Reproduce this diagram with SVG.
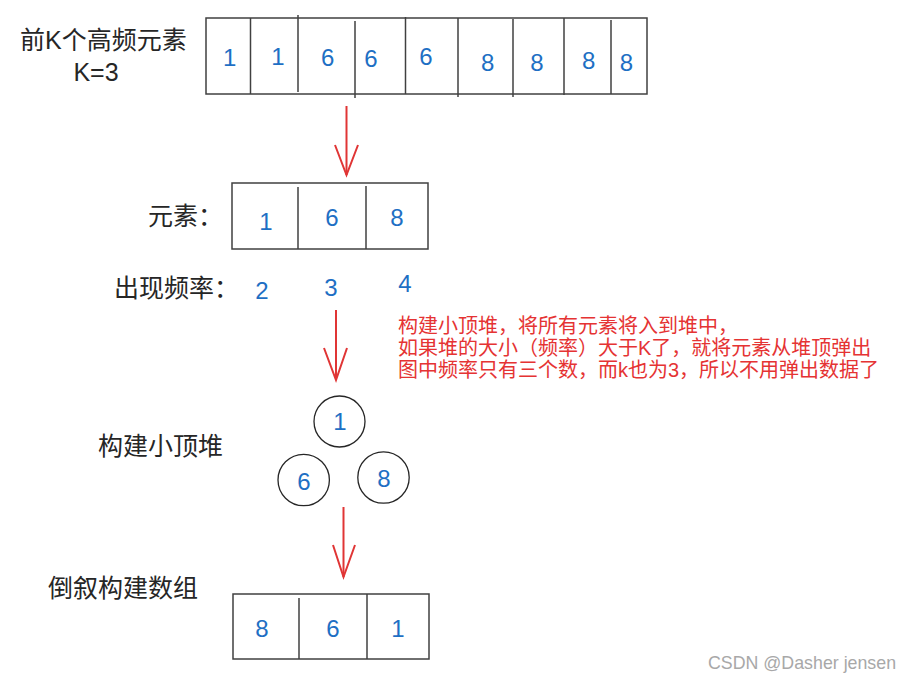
<svg xmlns="http://www.w3.org/2000/svg" width="912" height="681" viewBox="0 0 912 681">
<style>
.box{fill:none;stroke:#404040;stroke-width:1.5}
.ln{stroke:#404040;stroke-width:1.5}
.num{font-family:"Liberation Sans","Noto Sans CJK SC",sans-serif;font-size:24px;fill:#1e6fc4;text-anchor:middle}
.lbl{font-family:"Liberation Sans","Noto Sans CJK SC",sans-serif;font-size:25px;fill:#262626}
.note{font-family:"Liberation Sans","Noto Sans CJK SC",sans-serif;font-size:20px;fill:#e53333}
.arr{fill:none;stroke:#e03535;stroke-width:2}
.circ{fill:none;stroke:#262626;stroke-width:1.3}
.wm{font-family:"Liberation Sans",sans-serif;font-size:17.8px;fill:#a8a8a8}
</style>
<rect width="912" height="681" fill="#ffffff"/>
<g id="title">
<text class="lbl" x="20" y="48.5">前K个高频元素</text>
<text class="lbl" x="96" y="81" text-anchor="middle">K=3</text>
</g>
<g id="array-input">
<rect class="box" x="206" y="18" width="441" height="76"/>
<line class="ln" x1="250.5" y1="18" x2="250.5" y2="94"/>
<line class="ln" x1="298" y1="15" x2="298" y2="92"/>
<line class="ln" x1="355" y1="21" x2="355" y2="98"/>
<line class="ln" x1="405.5" y1="17" x2="405.5" y2="94"/>
<line class="ln" x1="458" y1="18" x2="458" y2="97"/>
<line class="ln" x1="513" y1="19" x2="513" y2="97"/>
<line class="ln" x1="564" y1="18" x2="564" y2="95"/>
<line class="ln" x1="611" y1="20" x2="611" y2="94"/>
<text class="num" x="229.6" y="65.6">1</text>
<text class="num" x="278" y="64.6">1</text>
<text class="num" x="327.6" y="65.6">6</text>
<text class="num" x="371" y="66.6">6</text>
<text class="num" x="426" y="64.6">6</text>
<text class="num" x="487.6" y="70.6">8</text>
<text class="num" x="537" y="70.6">8</text>
<text class="num" x="588.6" y="68.6">8</text>
<text class="num" x="626.5" y="70.6">8</text>
</g>
<g id="elements">
<text class="lbl" x="148" y="224.5">元素：</text>
<rect class="box" x="232" y="183" width="196" height="66"/>
<line class="ln" x1="298" y1="187" x2="298" y2="249"/>
<line class="ln" x1="366" y1="186" x2="366" y2="249"/>
<text class="num" x="266" y="229.6">1</text>
<text class="num" x="332" y="225.6">6</text>
<text class="num" x="397" y="225.6">8</text>
</g>
<g id="frequency">
<text class="lbl" x="114" y="296.5">出现频率：</text>
<text class="num" x="262" y="298.6">2</text>
<text class="num" x="331" y="295.6">3</text>
<text class="num" x="405" y="291.6">4</text>
</g>
<g id="note">
<text class="note" x="398" y="332.6">构建小顶堆，将所有元素将入到堆中，</text>
<text class="note" x="398" y="354.6">如果堆的大小（频率）大于K了，就将元素从堆顶弹出</text>
<text class="note" x="398" y="376.6">图中频率只有三个数，而k也为3，所以不用弹出数据了</text>
</g>
<g id="heap">
<text class="lbl" x="98" y="454.5">构建小顶堆</text>
<circle class="circ" cx="339.5" cy="421.5" r="25.5"/>
<circle class="circ" cx="303.7" cy="480" r="25.7"/>
<circle class="circ" cx="383.5" cy="477.5" r="25.7"/>
<text class="num" x="340" y="429.6">1</text>
<text class="num" x="304" y="489.6">6</text>
<text class="num" x="384" y="486.6">8</text>
</g>
<g id="result">
<text class="lbl" x="48" y="596.5">倒叙构建数组</text>
<rect class="box" x="233" y="594" width="196" height="65"/>
<line class="ln" x1="299" y1="598" x2="299" y2="659"/>
<line class="ln" x1="367" y1="594" x2="367" y2="659"/>
<text class="num" x="262" y="636.6">8</text>
<text class="num" x="333" y="636.6">6</text>
<text class="num" x="398" y="636.6">1</text>
</g>
<g id="connectors">
<line class="arr" x1="346.5" y1="106" x2="346.5" y2="175"/>
<polyline class="arr" points="335,145 346.5,175 358,145"/>
<line class="arr" x1="336" y1="310" x2="336" y2="380"/>
<polyline class="arr" points="324,348 336,380 347,348"/>
<line class="arr" x1="343.5" y1="507" x2="343.5" y2="577"/>
<polyline class="arr" points="333,545 343.5,577 355,545"/>
</g>
<g id="watermark">
<text class="wm" x="708" y="668.5">CSDN @Dasher jensen</text>
</g>
</svg>
